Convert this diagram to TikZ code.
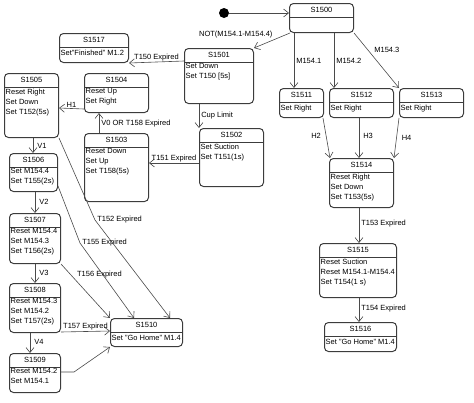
\documentclass[tikz,border=0pt]{standalone}
\usepackage{fontspec}
\setmainfont{Liberation Sans}
\usetikzlibrary{arrows.meta}

\definecolor{boxgray}{HTML}{3C3C3C}
\definecolor{linegray}{HTML}{4A4A4A}

\tikzset{
  statebox/.style={draw=boxgray, line width=1pt, rounded corners=4pt, anchor=north west, inner sep=0pt,
    path picture={\draw[boxgray, line width=1pt] ([yshift=-14pt]path picture bounding box.north west) -- ([yshift=-14pt]path picture bounding box.north east);}},
  statename/.style={font=\fontsize{7.5}{10}\selectfont, inner sep=0pt},
  statebody/.style={font=\fontsize{7.5}{10}\selectfont, anchor=north west, align=left,
    inner xsep=1.5pt, inner ysep=1.5pt, execute at begin node=\strut},
  trans/.style={draw=linegray, line width=.6pt, -{Straight Barb[length=5pt,width=8pt]}},
  translabel/.style={font=\fontsize{7.5}{10}\selectfont, inner sep=1pt, text=black}
}

\begin{document}
\begin{tikzpicture}[x=1pt, y=-1pt]
                \useasboundingbox (0,0) rectangle (474,402);
                % start point
                \node[fill=black, circle, inner sep=0pt, minimum size=10pt] (start) at (224,13) {};
                % states
                \node[statebox, minimum width=64, minimum height=29] (s1500) at (289,3) {};
                \node[statename] (n1500) at ([yshift=-6.5pt]s1500.north) {S1500};
                \node[statebox, minimum width=69, minimum height=55] (s1501) at (184,48) {};
                \node[statename] (n1501) at ([yshift=-6.5pt]s1501.north) {S1501};
                \node[statebody] (b1501) at ([yshift=-14pt]s1501.north west) {Set Down\\Set T150 [5s]};
                \node[statebox, minimum width=69, minimum height=29] (s1517) at (59,33) {};
                \node[statename] (n1517) at ([yshift=-6.5pt]s1517.north) {S1517};
                \node[statebody] (b1517) at ([yshift=-14pt]s1517.north west) {Set"Finished" M1.2};
                \node[statebox, minimum width=54, minimum height=64] (s1505) at (4,73) {};
                \node[statename] (n1505) at ([yshift=-6.5pt]s1505.north) {S1505};
                \node[statebody] (b1505) at ([yshift=-14pt]s1505.north west) {Reset Right\\Set Down\\Set T152(5s)};
                \node[statebox, minimum width=64, minimum height=39] (s1504) at (84,73) {};
                \node[statename] (n1504) at ([yshift=-6.5pt]s1504.north) {S1504};
                \node[statebody] (b1504) at ([yshift=-14pt]s1504.north west) {Reset Up\\Set Right};
                \node[statebox, minimum width=64, minimum height=68] (s1503) at (84,133) {};
                \node[statename] (n1503) at ([yshift=-6.5pt]s1503.north) {S1503};
                \node[statebody] (b1503) at ([yshift=-14pt]s1503.north west) {Reset Down\\Set Up\\Set T158(5s)};
                \node[statebox, minimum width=64, minimum height=58] (s1502) at (199,128) {};
                \node[statename] (n1502) at ([yshift=-6.5pt]s1502.north) {S1502};
                \node[statebody] (b1502) at ([yshift=-14pt]s1502.north west) {Set Suction\\Set T151(1s)};
                \node[statebox, minimum width=48, minimum height=38] (s1506) at (9,153) {};
                \node[statename] (n1506) at ([yshift=-6.5pt]s1506.north) {S1506};
                \node[statebody] (b1506) at ([yshift=-14pt]s1506.north west) {Set M154.4\\Set T155(2s)};
                \node[statebox, minimum width=51, minimum height=50] (s1507) at (9,213) {};
                \node[statename] (n1507) at ([yshift=-6.5pt]s1507.north) {S1507};
                \node[statebody] (b1507) at ([yshift=-14pt]s1507.north west) {Reset M154.4\\Set M154.3\\Set T156(2s)};
                \node[statebox, minimum width=51, minimum height=49] (s1508) at (9,283) {};
                \node[statename] (n1508) at ([yshift=-6.5pt]s1508.north) {S1508};
                \node[statebody] (b1508) at ([yshift=-14pt]s1508.north west) {Reset M154.3\\Set M154.2\\Set T157(2s)};
                \node[statebox, minimum width=51, minimum height=39] (s1509) at (9,353) {};
                \node[statename] (n1509) at ([yshift=-6.5pt]s1509.north) {S1509};
                \node[statebody] (b1509) at ([yshift=-14pt]s1509.north west) {Reset M154.2\\Set M154.1};
                \node[statebox, minimum width=72, minimum height=28] (s1510) at (110,318) {};
                \node[statename] (n1510) at ([yshift=-6.5pt]s1510.north) {S1510};
                \node[statebody] (b1510) at ([yshift=-14pt]s1510.north west) {Set "Go Home" M1.4};
                \node[statebox, minimum width=44, minimum height=29] (s1511) at (279,88) {};
                \node[statename] (n1511) at ([yshift=-6.5pt]s1511.north) {S1511};
                \node[statebody] (b1511) at ([yshift=-14pt]s1511.north west) {Set Right};
                \node[statebox, minimum width=64, minimum height=29] (s1512) at (329,88) {};
                \node[statename] (n1512) at ([yshift=-6.5pt]s1512.north) {S1512};
                \node[statebody] (b1512) at ([yshift=-14pt]s1512.north west) {Set Right};
                \node[statebox, minimum width=64, minimum height=29] (s1513) at (399,88) {};
                \node[statename] (n1513) at ([yshift=-6.5pt]s1513.north) {S1513};
                \node[statebody] (b1513) at ([yshift=-14pt]s1513.north west) {Set Right};
                \node[statebox, minimum width=64, minimum height=49] (s1514) at (329,158) {};
                \node[statename] (n1514) at ([yshift=-6.5pt]s1514.north) {S1514};
                \node[statebody] (b1514) at ([yshift=-14pt]s1514.north west) {Reset Right\\Set Down\\Set T153(5s)};
                \node[statebox, minimum width=77, minimum height=54] (s1515) at (319,243) {};
                \node[statename] (n1515) at ([yshift=-6.5pt]s1515.north) {S1515};
                \node[statebody] (b1515) at ([yshift=-14pt]s1515.north west) {Reset Suction\\Reset M154.1-M154.4\\Set T154(1 s)};
                \node[statebox, minimum width=72, minimum height=29] (s1516) at (324,322) {};
                \node[statename] (n1516) at ([yshift=-6.5pt]s1516.north) {S1516};
                \node[statebody] (b1516) at ([yshift=-14pt]s1516.north west) {Set "Go Home" M1.4};
                % transitions
                \draw[trans] (start) -- (start -| s1500.west);
                \draw[trans] ([xshift=1pt]s1500.south west) -- (s1501.north east)
                    node[translabel, pos=.45, anchor=south east] {NOT(M154.1-M154.4)};
                \draw[trans] ([xshift=5pt]s1500.south west) -- ([xshift=15pt]s1511.north west)
                    node[translabel, pos=.5, right=1pt] {M154.1};
                \draw[trans] ([xshift=45pt]s1500.south west) -- ([xshift=5pt]s1512.north west)
                    node[translabel, pos=.5, right=1pt] {M154.2};
                \draw[trans] (s1500.south east) -- (s1513.north west)
                    node[translabel, pos=.38, anchor=south west, xshift=2pt] {M154.3};
                \draw[trans] ([yshift=-13pt]s1501.north west) -- (s1517.south east)
                    node[translabel, pos=.5, above] {T150 Expired};
                \draw[trans] ([xshift=15pt]s1501.south west) -- (s1502.north west)
                    node[translabel, pos=.5, right=1pt] {Cup Limit};
                \draw[trans] ([yshift=-35pt]s1502.north west) -- ([yshift=-30pt]s1503.north east)
                    node[translabel, pos=.5, above] {T151 Expired};
                \draw[trans] ([xshift=15pt]s1503.north west) -- ([xshift=15pt]s1504.south west)
                    node[translabel, pos=.45, right=1pt] {V0 OR T158 Expired};
                \draw[trans] ([yshift=4pt]s1504.south west) -- ([yshift=-35pt]s1505.north east)
                    node[translabel, pos=.5, above] {H1};
                \draw[trans] ([xshift=29pt]s1505.south west) -- ([xshift=24pt]s1506.north west)
                    node[translabel, pos=.5, right=3pt] {V1};
                \draw[trans] ([xshift=26pt]s1506.south west) -- ([xshift=26pt]s1507.north west)
                    node[translabel, pos=.45, right=3pt] {V2};
                \draw[trans] ([xshift=26pt]s1507.south west) -- ([xshift=26pt]s1508.north west)
                    node[translabel, pos=.45, right=3pt] {V3};
                \draw[trans] ([xshift=21pt]s1508.south west) -- ([xshift=21pt]s1509.north west)
                    node[translabel, pos=.45, right=3pt] {V4};
                \draw[trans] (s1505.south east) -- (95,220)
                    node[translabel, right=1pt] {T152 Expired} -- ([xshift=60pt]s1510.north west);
                \draw[trans] ([yshift=6pt]s1506.south east) -- (80,243)
                    node[translabel, right=1pt] {T155 Expired} -- ([xshift=24pt]s1510.north west);
                \draw[trans] (s1507.south east) -- (s1510.north west)
                    node[translabel, pos=.2, right=5pt] {T156 Expired};
                \draw[trans] ([yshift=1pt]s1508.south east) -- ([yshift=-13pt]s1510.north west)
                    node[translabel, pos=.5, above] {T157 Expired};
                \draw[trans] ([yshift=-19pt]s1509.north east) -- (74,372) -- (s1510.south west);
                \draw[trans] ([xshift=-1pt]s1511.south east) -- ([xshift=1pt]s1514.north west)
                    node[translabel, pos=.45, left=4pt] {H2};
                \draw[trans] ([xshift=30pt]s1512.south west) -- ([xshift=30pt]s1514.north west)
                    node[translabel, pos=.45, right=3pt] {H3};
                \draw[trans] (s1513.south west) -- (s1514.north east)
                    node[translabel, pos=.5, right=4pt] {H4};
                \draw[trans] ([xshift=30pt]s1514.south west) -- ([xshift=40pt]s1515.north west)
                    node[translabel, pos=.45, right=1pt] {T153 Expired};
                \draw[trans] ([xshift=40pt]s1515.south west) -- ([xshift=35pt]s1516.north west)
                    node[translabel, pos=.45, right=1pt] {T154 Expired};
            \end{tikzpicture}
\end{document}
